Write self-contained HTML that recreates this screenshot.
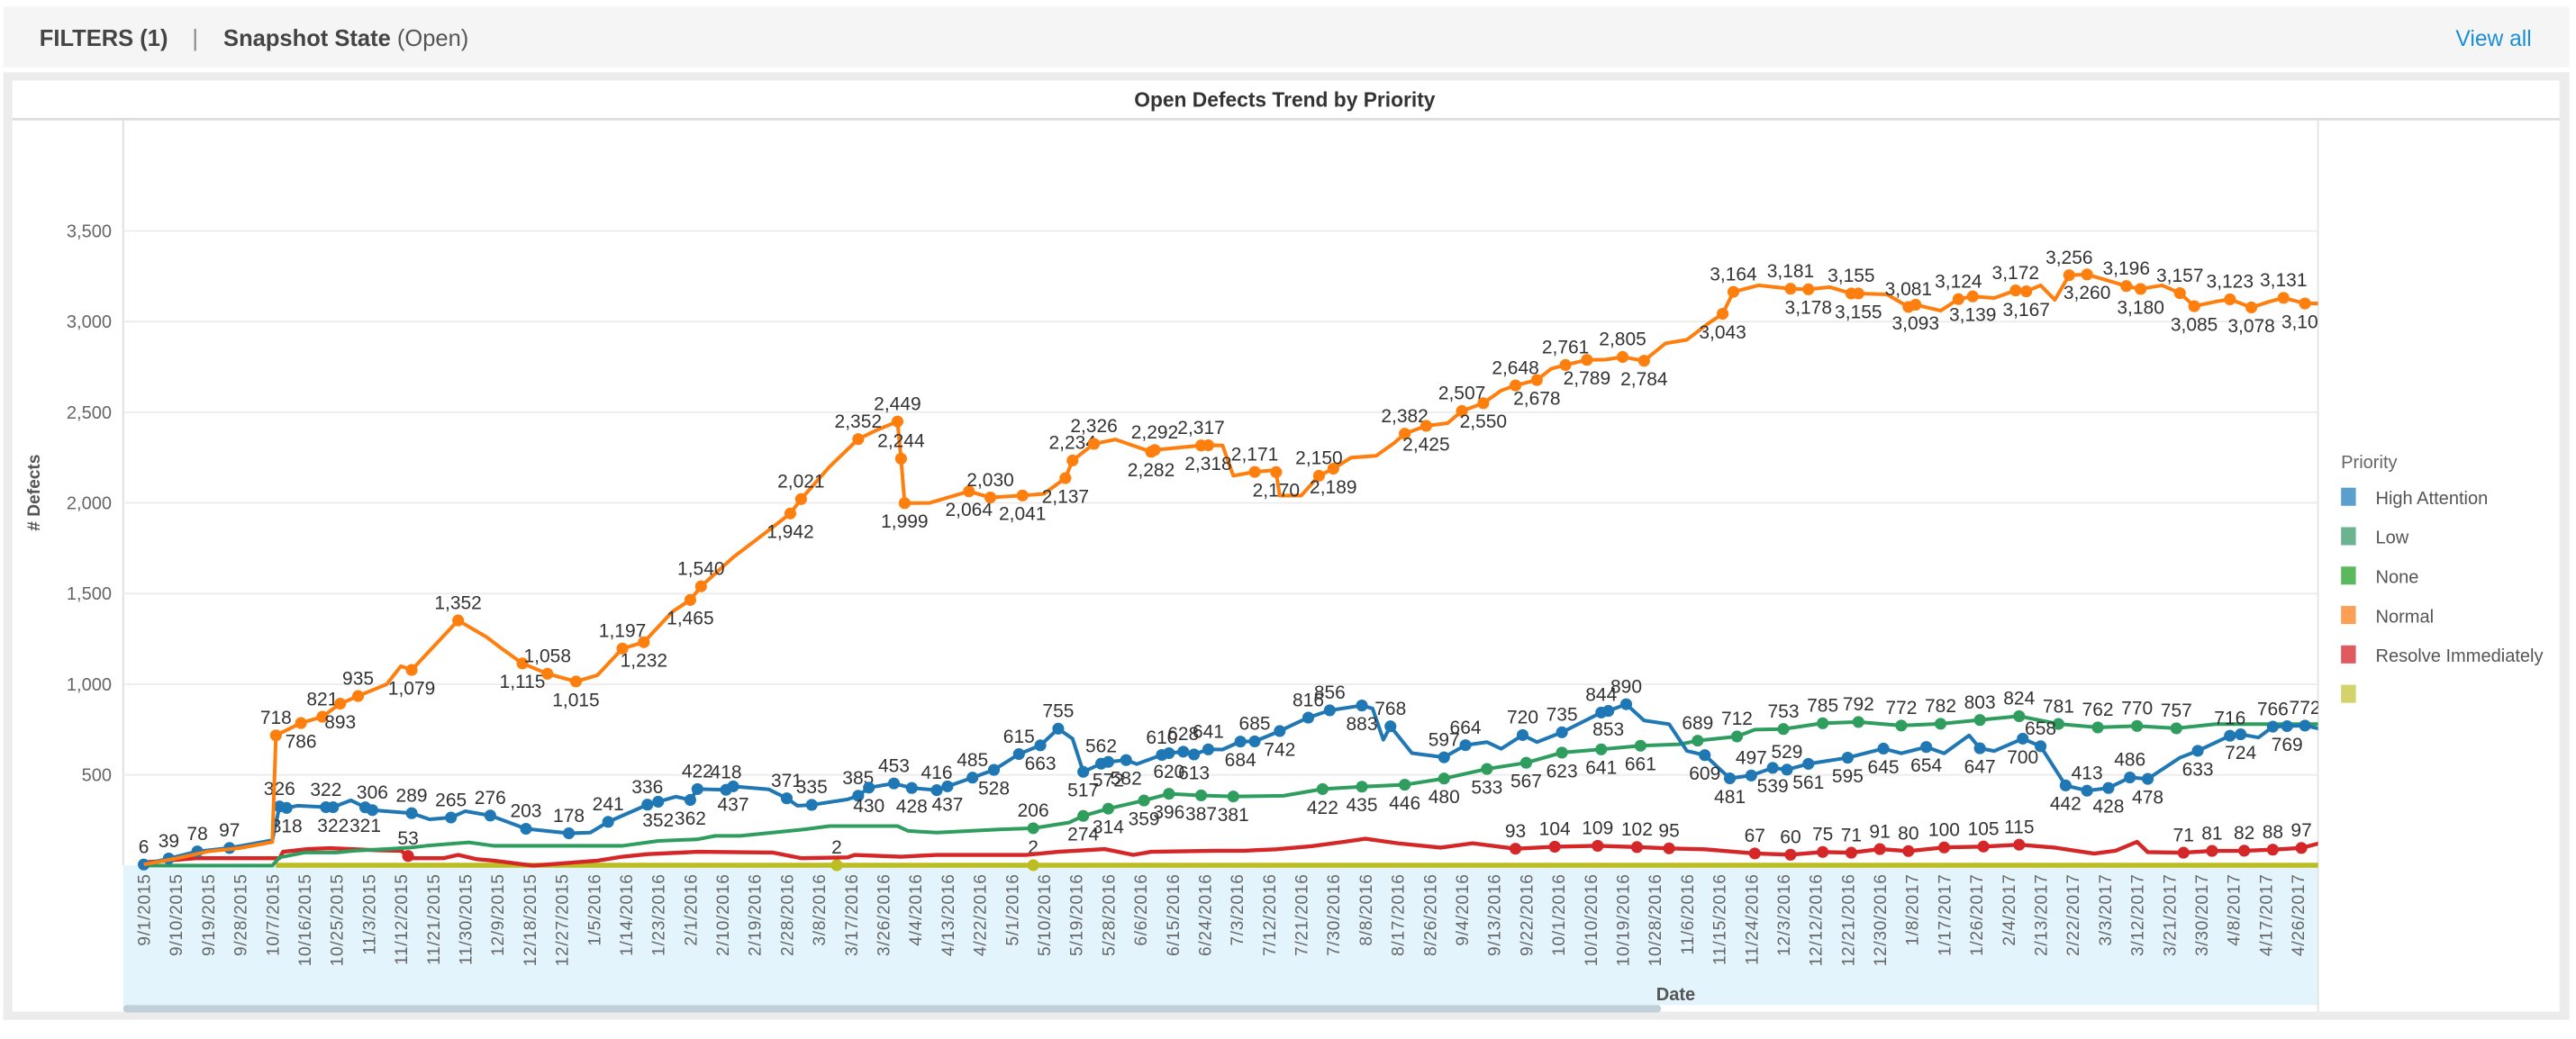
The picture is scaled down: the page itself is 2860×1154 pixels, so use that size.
<!DOCTYPE html>
<html><head><meta charset="utf-8"><style>
html,body{margin:0;padding:0;background:#fff;width:2860px;height:1154px;overflow:hidden}
svg{display:block;font-family:"Liberation Sans",sans-serif}
</style></head><body>
<svg id="root" width="2860" height="1154" viewBox="0 0 1568 632.7" preserveAspectRatio="none">
<rect x="2" y="4" width="1562" height="37" fill="#f5f5f5"/>
<text x="24" y="28" font-size="14" font-weight="bold" fill="#444">FILTERS (1)</text>
<text x="117" y="28" font-size="14" fill="#888">|</text>
<text x="136" y="28" font-size="14" font-weight="bold" fill="#444">Snapshot State <tspan font-weight="normal" fill="#555">(Open)</tspan></text>
<text x="1541" y="28" font-size="13.5" fill="#1a8fd8" text-anchor="end">View all</text>
<rect x="2" y="44" width="1562" height="577" fill="#ececec"/>
<rect x="7.5" y="49" width="1550.5" height="567" fill="#fff"/>
<text x="782" y="65" font-size="12.5" font-weight="bold" fill="#333" text-anchor="middle">Open Defects Trend by Priority</text>
<line x1="7.5" y1="72.6" x2="1558" y2="72.6" stroke="#ddd" stroke-width="1.5"/>
<rect x="75" y="527" width="1336" height="85" fill="#e3f4fc"/>
<rect x="75" y="612" width="936" height="4.5" rx="2" fill="#bfd0d8"/>
<text x="1020" y="609" font-size="11" font-weight="bold" fill="#555" text-anchor="middle">Date</text>
<text transform="translate(24,300) rotate(-90)" font-size="10.5" font-weight="bold" fill="#555" text-anchor="middle"># Defects</text>
<line x1="75" y1="73" x2="75" y2="527" stroke="#ddd"/>
<line x1="1411" y1="73" x2="1411" y2="616" stroke="#e3e3e3"/>
<g id="grid"></g><g id="yticks"></g><g id="xticks"></g>
<clipPath id="pc"><rect x="75" y="73" width="1336" height="460"/></clipPath>
<g id="plot" clip-path="url(#pc)"></g>
<g id="legend"></g>
</svg>
<script>
const tickLabels=["9/1/2015","9/10/2015","9/19/2015","9/28/2015","10/7/2015","10/16/2015","10/25/2015","11/3/2015","11/12/2015","11/21/2015","11/30/2015","12/9/2015","12/18/2015","12/27/2015","1/5/2016","1/14/2016","1/23/2016","2/1/2016","2/10/2016","2/19/2016","2/28/2016","3/8/2016","3/17/2016","3/26/2016","4/4/2016","4/13/2016","4/22/2016","5/1/2016","5/10/2016","5/19/2016","5/28/2016","6/6/2016","6/15/2016","6/24/2016","7/3/2016","7/12/2016","7/21/2016","7/30/2016","8/8/2016","8/17/2016","8/26/2016","9/4/2016","9/13/2016","9/22/2016","10/1/2016","10/10/2016","10/19/2016","10/28/2016","11/6/2016","11/15/2016","11/24/2016","12/3/2016","12/12/2016","12/21/2016","12/30/2016","1/8/2017","1/17/2017","1/26/2017","2/4/2017","2/13/2017","2/22/2017","3/3/2017","3/12/2017","3/21/2017","3/30/2017","4/8/2017","4/17/2017","4/26/2017"];
const tickDays=[0,9,18,27,36,45,54,63,72,81,90,99,108,117,126,135,144,153,162,171,180,189,198,207,216,225,234,243,252,261,270,279,288,297,306,315,324,333,342,351,360,369,378,387,396,405,414,423,432,441,450,459,468,477,486,495,504,513,522,531,540,549,558,567,576,585,594,603];
const yTicks=[500,1000,1500,2000,2500,3000,3500];
const yTickLabels=["500","1,000","1,500","2,000","2,500","3,000","3,500"];

const normalDays=[0,9,18,27,36,37,44,50,55,60,68,72,75,88,96,100,106,113,121,127,134,140,148,153,156,165,175,181,184,192,200,205,211,212,213,220,231,237,246,252,258,260,266,272,282,283,296,298,302,305,311,316,317,318,324,329,333,338,345,350,353,359,365,369,375,380,384,390,394,398,404,409,414,420,426,432,438,442,445,452,461,466,472,478,480,488,494,496,503,508,512,518,524,527,531,535,539,544,555,559,565,570,574,580,584,590,595,599,605,609];
const normalVals=[6,39,78,97,130,718,786,821,893,935,1000,1100,1079,1352,1260,1200,1115,1058,1015,1050,1197,1232,1400,1465,1540,1700,1850,1942,2021,2200,2352,2400,2449,2244,1999,2000,2064,2030,2041,2050,2137,2234,2326,2350,2282,2292,2317,2318,2317,2150,2171,2180,2170,2040,2040,2150,2189,2250,2260,2330,2382,2425,2440,2507,2550,2620,2648,2678,2740,2761,2789,2790,2805,2784,2880,2900,2990,3043,3164,3200,3181,3178,3190,3155,3155,3150,3081,3093,3060,3124,3139,3130,3172,3167,3200,3120,3256,3260,3196,3180,3200,3157,3085,3110,3123,3078,3110,3131,3100,3100];
const normalLbl=[0,0,0,0,0,1,-1,1,-1,1,0,0,-1,1,0,0,-1,1,-1,0,1,-1,0,-1,1,0,0,-1,1,0,1,0,1,1,-1,0,-1,1,-1,0,-1,1,1,0,-1,1,1,-1,0,0,1,0,-1,0,0,1,-1,0,0,0,1,-1,0,1,-1,0,1,-1,0,1,-1,0,1,-1,0,0,0,-1,1,0,1,-1,0,1,-1,0,1,-1,0,1,-1,0,1,-1,0,0,1,-1,1,-1,0,1,-1,0,1,-1,0,1,-1,0];

const highDays=[0,7,15,24,36,38,40,43,51,53,58,62,64,75,80,86,90,97,107,119,125,130,141,144,149,153,155,163,165,175,180,183,187,197,200,203,210,215,222,225,232,238,245,251,256,260,263,268,270,275,278,285,287,291,294,298,302,307,311,318,322,326,332,341,344,347,349,355,364,370,376,380,386,390,397,408,410,415,420,427,432,437,444,450,456,460,466,477,487,492,499,504,511,514,518,526,531,538,544,550,556,561,570,575,584,587,592,596,600,605,609];
const highVals=[6,39,78,97,140,326,318,330,322,322,360,321,306,289,255,265,300,276,203,178,182,241,336,352,380,362,422,418,437,420,371,330,335,365,385,430,453,428,416,437,485,528,615,663,755,700,517,562,572,582,560,610,620,628,613,641,640,684,685,742,780,816,856,883,866,694,768,620,597,664,681,644,720,681,735,844,853,890,800,780,632,609,481,497,539,529,561,595,645,619,654,619,718,647,632,700,658,442,413,428,486,478,595,633,716,724,706,766,769,772,755];
const highLbl=[1,1,1,1,0,1,-1,0,1,-1,0,-1,1,1,0,1,0,1,1,1,0,1,1,-1,0,-1,1,1,-1,0,1,0,1,0,1,-1,1,-1,1,-1,1,-1,1,-1,1,0,-1,1,-1,-1,0,1,-1,1,-1,1,0,-1,1,-1,0,1,1,-1,0,0,1,0,1,1,0,0,1,0,1,1,-1,1,0,0,0,-1,-1,1,-1,1,-1,-1,-1,0,-1,0,0,-1,0,-1,1,-1,1,-1,1,-1,0,-1,1,-1,0,1,-1,1,0];

const noneDays=[0,36,38,45,54,59,68,75,79,91,98,134,144,155,160,167,176,185,192,211,214,222,240,249,259,263,270,280,287,296,305,319,330,341,353,364,376,387,397,408,419,430,435,446,451,459,470,480,492,503,514,525,536,547,558,569,580,595,609];
const noneVals=[0,0,45,72,72,82,91,100,109,128,109,109,136,145,164,164,182,200,218,218,191,182,200,206,237,274,314,359,396,387,381,385,422,435,446,480,533,567,623,641,661,669,689,712,750,753,785,792,772,782,803,824,781,762,770,757,780,780,780];
const noneLbl=[0,0,0,0,0,0,0,0,0,0,0,0,0,0,0,0,0,0,0,0,0,0,0,1,0,-1,-1,-1,-1,-1,-1,0,-1,-1,-1,-1,-1,-1,-1,-1,-1,0,1,1,0,1,1,1,1,1,1,1,1,1,1,1,0,0,0];

const resolveDays=[0,15,38,39,46,52,65,72,74,75,84,88,93,98,109,127,134,141,155,176,184,197,199,212,222,247,256,269,277,282,300,308,317,327,336,342,351,363,372,384,395,407,418,427,437,451,461,470,478,486,494,504,515,525,535,546,552,558,561,571,579,588,596,604,609];
const resolveVals=[17,41,41,76,91,96,85,82,53,41,41,59,36,27,0,27,49,63,76,72,41,45,59,49,59,59,76,91,59,76,82,82,90,107,131,148,123,99,123,93,104,109,102,95,90,67,60,75,71,91,80,100,105,115,99,66,82,131,74,71,81,82,88,97,123];
const resolveLbl=[0,0,0,0,0,0,0,0,1,0,0,0,0,0,0,0,0,0,0,0,0,0,0,0,0,0,0,0,0,0,0,0,0,0,0,0,0,0,0,1,1,1,1,1,0,1,1,1,1,1,1,1,1,1,0,0,0,0,0,1,1,1,1,1,0];

const blankDays=[37,194,249,609];
const blankVals=[2,2,2,2];
const blankLbl=[0,1,1,0];

const legendNames=["High Attention","Low","None","Normal","Resolve Immediately",""];
const legendColors=["#5b9fcf","#6cb391","#5cb85c","#fda055","#e05a5e","#d2d36a"];

const NS="http://www.w3.org/2000/svg";
const X0=87.5,PXD=2.1744,Y0=527.1,PYV=0.11042;
function xs(d){return X0+d*PXD;}
function ys(v){return Y0-v*PYV;}
function mk(tag,attrs,parent){const e=document.createElementNS(NS,tag);for(const k in attrs)e.setAttribute(k,attrs[k]);parent.appendChild(e);return e;}
function fmt(v){return v.toLocaleString("en-US");}

const grid=document.getElementById("grid"),yt=document.getElementById("yticks"),xt=document.getElementById("xticks");
yTicks.forEach((v,i)=>{
  const l=mk("line",{x1:75,x2:1411,y1:ys(v),y2:ys(v),stroke:"#ececec","stroke-width":1},grid);
  
  
  const t=mk("text",{x:68,y:ys(v)+3.8,"font-size":11,fill:"#666","text-anchor":"end"},yt);
  t.textContent=yTickLabels[i];
  
  
});
tickLabels.forEach((s,i)=>{
  const x=xs(tickDays[i]);
  const t=mk("text",{transform:"translate("+(x+3.8)+",532) rotate(-90)","font-size":10.5,fill:"#666","text-anchor":"end","letter-spacing":"0.4"},xt);
  t.textContent=s;
  
  
});

const plot=document.getElementById("plot");
function series(name,days,vals,lbl,color,sw){
  const g=mk("g",{},plot);
  
  
  const pts=days.map((d,i)=>xs(d).toFixed(2)+","+ys(vals[i]).toFixed(2)).join(" ");
  const pl=mk("polyline",{points:pts,fill:"none",stroke:color,"stroke-width":sw,"stroke-linejoin":"round"},g);
  
  
  days.forEach((d,i)=>{
    if(!lbl[i])return;
    const c=mk("circle",{cx:xs(d),cy:ys(vals[i]),r:3.6,fill:color},g);
    
    
    const t=mk("text",{x:xs(d),y:lbl[i]>0?ys(vals[i])-7:ys(vals[i])+15,"font-size":11.5,fill:"#333","text-anchor":"middle"},g);
    t.textContent=fmt(vals[i]);
    
    
  });
}
series("blank",blankDays,blankVals,blankLbl,"#bcbd22",3);
series("resolve-immediately",resolveDays,resolveVals,resolveLbl,"#d62728",2.4);
series("none",noneDays,noneVals,noneLbl,"#2f9d5e",2.2);
series("high-attention",highDays,highVals,highLbl,"#1f77b4",2.2);
series("normal",normalDays,normalVals,normalLbl,"#ff7f0e",2.2);

const lg=document.getElementById("legend");
const lt=mk("text",{x:1425,y:285,"font-size":11,fill:"#666"},lg);
lt.textContent="Priority";


legendNames.forEach((n,i)=>{
  const y=303+i*24;
  const r=mk("rect",{x:1425,y:y-6,width:9,height:11,fill:legendColors[i]},lg);
  
  
  const t=mk("text",{x:1446,y:y+4,"font-size":11,fill:"#555"},lg);
  t.textContent=n;
  
  
});
</script>
</body></html>
